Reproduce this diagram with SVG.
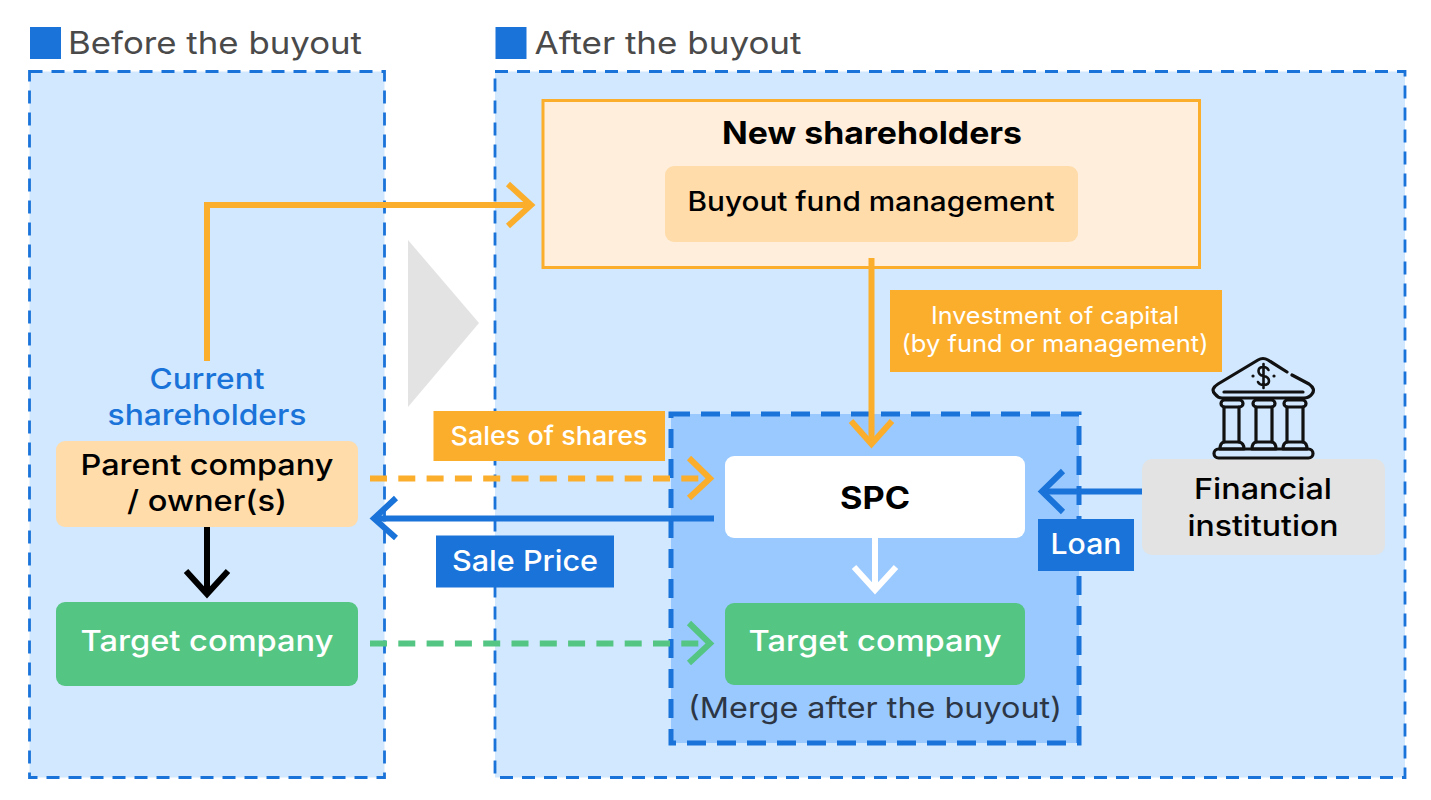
<svg xmlns="http://www.w3.org/2000/svg" width="1431" height="800" viewBox="0 0 1431 800">
<defs>
<style>
text{font-family:"Inter","Noto Sans","Liberation Sans",sans-serif;text-anchor:middle;font-weight:500}
text.b{font-weight:700}
text.r{font-weight:400}
.panel{fill:#d1e8fe;stroke:#1a73d9;stroke-width:2.800;stroke-dasharray:13 9}
.conn{fill:none;stroke-width:6}
.orange{stroke:#fbae2c}.blue{stroke:#1a73d9}.green{stroke:#54c582}.black{stroke:#000}.white{stroke:#fff}
.dash{stroke-dasharray:17 11.3}
.w{fill:#fff}.k{fill:#000}
.icon{fill:none;stroke:#111;stroke-width:3.200;stroke-linecap:round;stroke-linejoin:round}
</style>
</defs>
<rect width="1431" height="800" fill="#fff"/>
<g id="before-title"><rect x="30" y="27" width="31" height="32" fill="#1a73d9"/><text class="r" x="215" y="54" font-size="31" fill="#4a4a4a" textLength="294" lengthAdjust="spacingAndGlyphs">Before the buyout</text></g>
<g id="after-title"><rect x="495.500" y="27" width="31" height="32" fill="#1a73d9"/><text class="r" x="668" y="54" font-size="31" fill="#4a4a4a" textLength="267" lengthAdjust="spacingAndGlyphs">After the buyout</text></g>
<rect id="before-panel" class="panel" x="29.500" y="71.500" width="355" height="706"/>
<rect id="after-panel" class="panel" x="495" y="71.500" width="910" height="706"/>
<polygon id="transition-triangle" points="408,240 479,323 408,407" fill="#e3e3e3"/>
<g id="new-shareholders"><rect x="543" y="100.500" width="656.500" height="167" fill="#ffeedb" stroke="#fbae2c" stroke-width="3"/><text class="b k" x="872" y="144" font-size="31" textLength="300" lengthAdjust="spacingAndGlyphs">New shareholders</text></g>
<g id="buyout-fund"><rect x="665" y="166" width="413" height="76" rx="9" fill="#ffdcaa"/><text x="871" y="211" font-size="27" class="k" textLength="367" lengthAdjust="spacingAndGlyphs">Buyout fund management</text></g>
<g id="spc-box"><rect x="671" y="414" width="408" height="329" fill="#99c9ff" stroke="#1a73d9" stroke-width="5" stroke-dasharray="19 11"/></g>
<g id="spc"><rect x="725" y="456" width="300" height="82" rx="9" fill="#fff"/><text class="b k" x="875" y="509" font-size="31" textLength="70" lengthAdjust="spacingAndGlyphs">SPC</text></g>
<g id="target-after"><rect x="725" y="603" width="300" height="82" rx="9" fill="#54c582"/><text x="875" y="651" font-size="29" class="w" textLength="253" lengthAdjust="spacingAndGlyphs">Target company</text></g>
<text id="merge-label" class="r" x="875" y="718" font-size="29" fill="#2c3645" textLength="374" lengthAdjust="spacingAndGlyphs">(Merge after the buyout)</text>
<g id="current-shareholders"><text x="207" y="389" font-size="29" fill="#1a73d9" textLength="115" lengthAdjust="spacingAndGlyphs">Current</text><text x="207" y="425" font-size="29" fill="#1a73d9" textLength="199" lengthAdjust="spacingAndGlyphs">shareholders</text></g>
<g id="parent-company"><rect x="56" y="441" width="302" height="86" rx="9" fill="#ffdcaa"/><text x="207" y="475" font-size="29" class="k" textLength="253" lengthAdjust="spacingAndGlyphs">Parent company</text><text x="207" y="511" font-size="29" class="k" textLength="160" lengthAdjust="spacingAndGlyphs">/ owner(s)</text></g>
<g id="target-before"><rect x="56" y="602" width="302" height="84" rx="9" fill="#54c582"/><text x="207" y="651" font-size="29" class="w" textLength="253" lengthAdjust="spacingAndGlyphs">Target company</text></g>
<g id="financial-institution"><rect x="1142" y="459" width="243" height="96" rx="10" fill="#e3e3e3"/><text x="1263" y="499" font-size="29" class="k" textLength="138" lengthAdjust="spacingAndGlyphs">Financial</text><text x="1263" y="536" font-size="29" class="k" textLength="151" lengthAdjust="spacingAndGlyphs">institution</text></g>
<g id="bank-icon" class="icon">
<path d="M1287 372 L1268 360 Q1263 357 1258 360 L1218 384 Q1210 389 1215 394 Q1218 398 1222 398 H1304 Q1309 398 1312 394 Q1316 389 1309 384 L1292 375"/>
<path d="M1224 392 H1303"/>
<rect x="1221" y="400" width="22" height="7" rx="3.500"/><rect x="1253" y="400" width="22" height="7" rx="3.500"/><rect x="1284" y="400" width="22" height="7" rx="3.500"/>
<path d="M1224 407 V442 M1239 407 V442 M1256 407 V442 M1272 407 V442 M1287 407 V442 M1303 407 V442"/>
<path d="M1224 442 h15 q5 1 5 7 h-24 q0 -6 4 -7Z M1256 442 h16 q4 1 4 7 h-24 q0 -6 4 -7Z M1287 442 h16 q4 1 4 7 h-24 q0 -6 4 -7Z"/>
<rect x="1214" y="449" width="99" height="9" rx="4.500"/>
<path d="M1268.500 370 q-1.500 -3 -5 -3 q-5 0 -5 4 q0 4 5 5 q5.500 1 5.500 5 q0 4 -5.500 4 q-4 0 -5.500 -3 M1263.500 364 V388" stroke-width="2.600"/>
<path d="M1253 376 h.01 M1274 376 h.01"/>
</g>
<g id="connectors">
<path class="conn orange" d="M207 361 V205 H531" stroke-width="5"/>
<path class="conn orange" d="M508 184 L531 205 L508 226"/>
<path class="conn orange" d="M871.500 258 V443"/>
<path class="conn orange" d="M851 421 L871.500 444 L892 421"/>
<path class="conn orange dash" d="M370 478.500 H708"/>
<path class="conn orange" d="M689 458 L710 478.500 L689 498"/>
<path class="conn blue" d="M714 518.500 H376"/>
<path class="conn blue" d="M396 498 L374 518.500 L396 538"/>
<path class="conn green dash" d="M370 643.500 H708"/>
<path class="conn green" d="M689 623 L710 643.500 L689 663"/>
<path class="conn black" d="M207 527 V592"/>
<path class="conn black" d="M186 571 L207 594 L228 571"/>
<path class="conn white" d="M875 538 V588"/>
<path class="conn white" d="M854 567 L875 590 L896 567"/>
<path class="conn blue" d="M1142 491.500 H1044"/>
<path class="conn blue" d="M1063 471 L1042 491.500 L1063 512"/>
</g>
<g id="label-investment"><rect x="890" y="290" width="332" height="82" fill="#fbae2c"/><text x="1055" y="324" font-size="24" class="r w" textLength="248" lengthAdjust="spacingAndGlyphs">Investment of capital</text><text x="1055" y="352" font-size="24" class="r w" textLength="307" lengthAdjust="spacingAndGlyphs">(by fund or management)</text></g>
<g id="label-sales"><rect x="433.500" y="411" width="231.500" height="50" fill="#fbae2c"/><text x="549" y="445" font-size="26" class="w" textLength="197" lengthAdjust="spacingAndGlyphs">Sales of shares</text></g>
<g id="label-price"><rect x="436" y="535.500" width="178" height="52" fill="#1a73d9"/><text x="525" y="571" font-size="28" class="w" textLength="146" lengthAdjust="spacingAndGlyphs">Sale Price</text></g>
<g id="label-loan"><rect x="1038" y="519" width="96" height="52" fill="#1a73d9"/><text x="1086" y="554" font-size="28" class="w" textLength="71" lengthAdjust="spacingAndGlyphs">Loan</text></g>
</svg>
